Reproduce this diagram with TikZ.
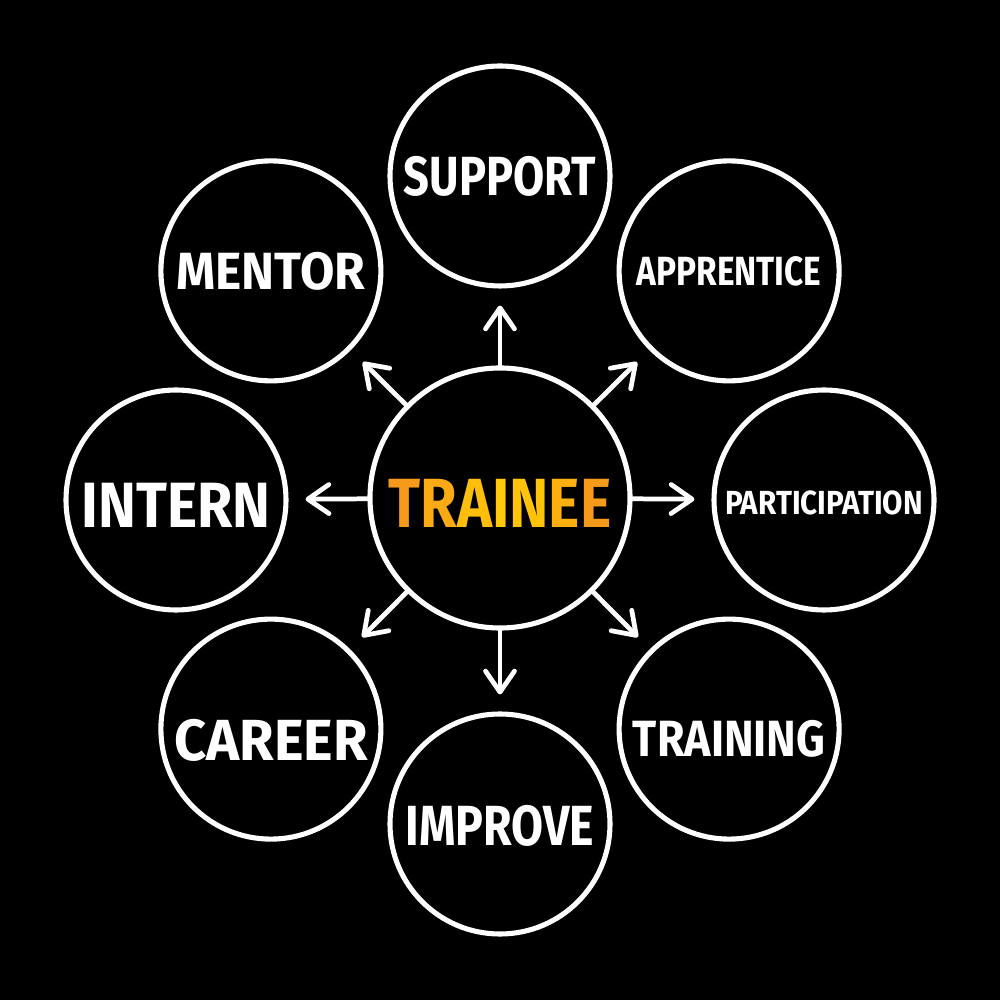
\documentclass[tikz,border=0pt]{standalone}
\usepackage{fontspec}
\setmainfont{Fira Sans}[FakeStretch=0.82]
\usepackage{tikz}
\usetikzlibrary{positioning, arrows.meta}

\definecolor{orA}{HTML}{F59A1A}
\definecolor{orB}{HTML}{FAAA14}
\definecolor{orC}{HTML}{FDBE0C}
\definecolor{orD}{HTML}{FFC80A}
\definecolor{orE}{HTML}{FFC30A}
\definecolor{orF}{HTML}{FBB010}
\definecolor{orG}{HTML}{F59A1A}

\tikzset{
  hub/.style={circle, draw=white, line width=1.45pt, minimum size=2.6cm, inner sep=0pt},
  leaf/.style={circle, draw=white, line width=1.45pt, minimum size=2.2cm, inner sep=0pt, text=white},
  spoke/.style={draw=white, line width=1.35pt, line cap=round,
    -{Straight Barb[length=2.1mm, width=2.9mm, round]}, shorten >=0.17cm}
}

\begin{document}
\begin{tikzpicture}
    % Background
    \fill[black] (-5,-5) rectangle (5,5);
    \useasboundingbox (-5,-5) rectangle (5,5);

    % Centre
    \node[hub, font=\bfseries\fontsize{19.8}{20}\selectfont] (trainee) at (0,0.02)
      {\raisebox{-0.05cm}[\height][\depth]{\scalebox{1.04}[1]{\textcolor{orA}{T}\textcolor{orB}{R}\textcolor{orC}{A}\textcolor{orD}{I}\textcolor{orE}{N}\textcolor{orF}{E}\textcolor{orG}{E}}}};

    % Ring of circles
    \foreach \ang/\name/\txt/\sz/\sx/\dy in {90/support/SUPPORT/15.7/1/0, 45/apprentice/APPRENTICE/11.6/1/0, 0/participation/PARTICIPATION/9.5/1.08/0.03, -45/training/TRAINING/14.5/1.07/0.10, -90/improve/IMPROVE/16.1/1/0.02, -135/career/CAREER/16.5/1.18/0.11, 180/intern/INTERN/18.2/1.09/0.05, 135/mentor/MENTOR/14.9/1.16/0} {
      \node[leaf, font=\bfseries\fontsize{\sz}{\sz}\selectfont] (\name) at (\ang:3.24)
        {\raisebox{-\dy cm}[\height][\depth]{\scalebox{\sx}[1]{\txt}}};

      % Arrow out of the centre
      \draw[spoke] (trainee) -- (\name);
    }

  \end{tikzpicture}
\end{document}
